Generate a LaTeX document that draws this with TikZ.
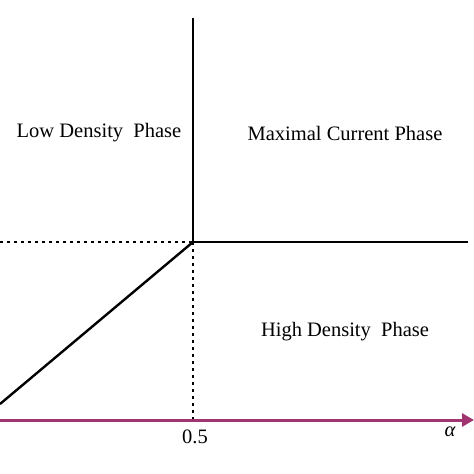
\documentclass[tikz,border=0pt]{standalone}
\usepackage{fontspec}
\setmainfont{Liberation Serif}
\usetikzlibrary{arrows.meta}
\definecolor{axiscol}{RGB}{160,52,112}
\tikzset{
  phase/.style={font=\fontsize{20.5}{24}\selectfont, inner sep=0pt},
  boundary/.style={line width=2.4pt, black},
  guide/.style={line width=2pt, black, dash pattern=on 3pt off 4pt},
  axisline/.style={line width=3pt, axiscol, -{Triangle[length=12pt,width=13pt]}}
}
\begin{document}
\begin{tikzpicture}[x=1pt,y=-1pt]
\useasboundingbox (0,0) rectangle (474,474);
\coordinate (top) at (193,18);
\coordinate (c) at (193,242);
\coordinate (r) at (468,242);
\coordinate (l) at (0,242);
\coordinate (d) at (0,404);
\coordinate (b) at (193,420);
\coordinate (a0) at (0,420);
\coordinate (a1) at (474,420);
\draw[guide] (l) -- (c);
\draw[guide] (c) -- (b);
\draw[boundary] (top) -- (c) -- (r);
\draw[boundary] (d) -- (c);
\draw[axisline] (a0) -- (a1);
\node[phase] (ld) at (99,133) {Low Density\ \ Phase};
\node[phase] (mc) at (345,133) {Maximal Current Phase};
\node[phase] (hd) at (345,332) {High Density\ \ Phase};
\node[phase] (half) at (195,437) {0.5};
\node[phase] (alpha) at (450,432) {\itshape α};
\end{tikzpicture}
\end{document}
